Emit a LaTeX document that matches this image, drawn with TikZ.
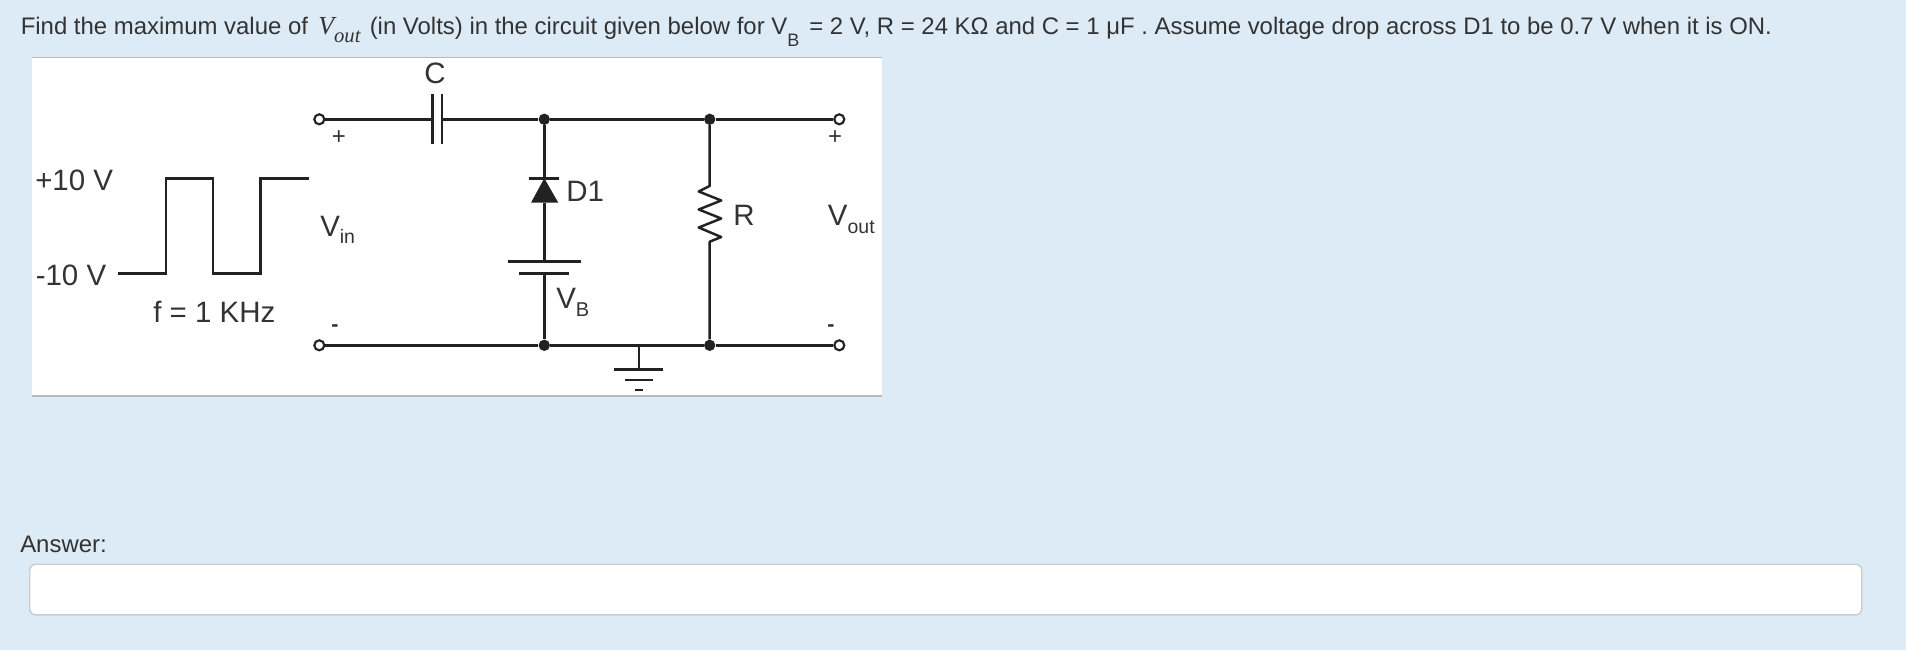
\documentclass[tikz,border=0pt]{standalone}
\usepackage{fontspec}
\setmainfont{Liberation Sans}
\newfontfamily\serifit{Liberation Serif}[ItalicFont=* Italic]
\definecolor{pagebg}{RGB}{221,235,247}
\definecolor{inktxt}{RGB}{51,51,51}
\definecolor{wireink}{RGB}{34,34,34}
\definecolor{edgegray}{RGB}{185,185,185}
\definecolor{boxgray}{RGB}{204,204,204}
\newcommand{\subfig}[1]{\raisebox{-5.6pt}{\fontsize{14.6}{15}\selectfont #1}}
\newcommand{\subhead}[1]{\raisebox{-9pt}{\fontsize{13.5}{14}\selectfont #1}}
\tikzset{
  headtxt/.style={anchor=base west,inner sep=0pt,text=inktxt,font=\fontsize{17.95}{20}\selectfont},
  figtxt/.style={anchor=base west,inner sep=0pt,text=inktxt,font=\fontsize{22.1}{24}\selectfont},
  signtxt/.style={inner sep=0pt,text=inktxt,font=\fontsize{18}{20}\selectfont},
  wire/.style={draw=wireink,line width=1.85pt},
  jdot/.style={circle,fill=wireink,inner sep=0pt,minimum size=8.5pt},
  term/.style={circle,draw=wireink,fill=white,line width=1.6pt,inner sep=0pt,minimum size=7.5pt},
}
\begin{document}
\begin{tikzpicture}[x=0.75pt,y=0.75pt,yscale=-1,xscale=1]
\useasboundingbox (0,0) rectangle (1906,650);
\fill[pagebg] (0,0) rectangle (1906,650);
\fill[white] (32,57.3) rectangle (881.7,396);
\draw[edgegray,line width=0.8pt] (32,57.3) -- (881.7,57.3);
\draw[edgegray,line width=0.8pt] (32,396) -- (881.7,396);

\node[headtxt] (find) at (20.5,34) {Find the maximum value of};
\node[headtxt,font=\fontsize{19.5}{20}\selectfont\serifit\itshape] (vout) at (318,34) {V\raisebox{-6pt}{\fontsize{15.5}{16}\selectfont out}};
\node[headtxt] (rest) at (369.5,34) {(in Volts) in the circuit given below for V\subhead{B}};
\node[headtxt] (vals) at (809,34) {= 2 V, R = 24 KΩ and C = 1 μF . Assume voltage drop across D1 to be 0.7 V when it is ON.};
\node[headtxt] (answer) at (20,552.7) {Answer:};
\node[draw=boxgray,fill=white,line width=1.1pt,rounded corners=4.5pt,inner sep=0pt,minimum width=1374pt,minimum height=38pt,anchor=north west] (answerbox) at (29,563.5) {};

\node[term] (inp) at (319.3,119.3) {};
\node[term] (inm) at (319.3,345.3) {};
\node[term] (outp) at (839.3,119.3) {};
\node[term] (outm) at (839.3,345.3) {};
\node[jdot] (jtopd) at (544.3,119.3) {};
\node[jdot] (jtopr) at (709.7,119.3) {};
\node[jdot] (jbotd) at (544.3,345.3) {};
\node[jdot] (jbotr) at (709.7,345.3) {};
\coordinate (capl) at (432.7,119.3);
\coordinate (capr) at (442,119.3);
\coordinate (dtip) at (544.3,178.3);
\coordinate (dbase) at (544.3,202.7);
\coordinate (batlong) at (544.3,261.3);
\coordinate (batshort) at (544.3,273.3);
\coordinate (rtop) at (709.7,186);
\coordinate (rbot) at (709.7,241.7);
\coordinate (gnd) at (639,345.3);
\coordinate (gndp) at (639,369.3);

\draw[wire] (inp) -- (capl);
\draw[wire] (capr) -- (jtopd);
\draw[wire] (jtopd) -- (jtopr);
\draw[wire] (jtopr) -- (outp);
\draw[wire] (inm) -- (jbotd);
\draw[wire] (jbotd) -- (jbotr);
\draw[wire] (jbotr) -- (outm);
\draw[wire] (432.7,94.3) -- (432.7,144.3);
\draw[wire] (442,94.3) -- (442,144.3);
\draw[wire] (jtopd) -- (dtip);
\draw[wire] (529.3,178.3) -- (559,178.3);
\fill[wireink] (dtip) -- (558.3,202.7) -- (531,202.7) -- cycle;
\draw[wire] (dbase) -- (batlong);
\draw[wire] (507.7,261.3) -- (580.7,261.3);
\draw[wire] (519.3,273.3) -- (569,273.3);
\draw[wire] (batshort) -- (jbotd);
\draw[wire,line join=round] (jtopr) -- (rtop) -- ++(-11,5.5) -- ++(22.5,9) -- ++(-22.5,9) -- ++(22.5,9) -- ++(-22.5,9) -- ++(22.5,9.5) -- (rbot) -- (jbotr);
\draw[wire] (gnd) -- (gndp);
\draw[wire] (614.3,369.3) -- (663.3,369.3);
\draw[wire] (624.7,380) -- (653,380);
\draw[wire] (634.7,390) -- (643,390);
\draw[wire,line join=miter] (118.3,273.3) -- (166,273.3) -- (166,178.3) -- (213,178.3) -- (213,273.3) -- (260.3,273.3) -- (260.3,178.3) -- (308.7,178.3);

\node[figtxt] (labhigh) at (35,190) {+10 V};
\node[figtxt] (lablow) at (35.5,285) {-10 V};
\node[figtxt] (labfreq) at (153,322) {f = 1 KHz};
\node[figtxt] (labc) at (424,83) {C};
\node[figtxt] (labvin) at (320,236) {V\subfig{in}};
\node[figtxt] (labd) at (566,201.7) {D1};
\node[figtxt] (labr) at (733,225.7) {R};
\node[figtxt] (labvout) at (827.7,225.7) {V\subfig{out}};
\node[figtxt] (labvb) at (556,308) {V\raisebox{-6pt}{\fontsize{15}{16}\selectfont B}};
\node[signtxt] (inplus) at (339,138) {+};
\node[signtxt,font=\fontsize{16}{18}\bfseries] (inminus) at (335,328) {-};
\node[signtxt] (outplus) at (835,138) {+};
\node[signtxt,font=\fontsize{16}{18}\bfseries] (outminus) at (831,328) {-};
\end{tikzpicture}
\end{document}
